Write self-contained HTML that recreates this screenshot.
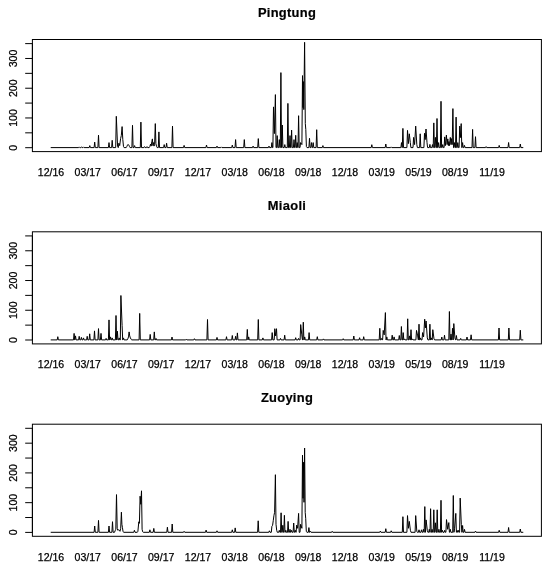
<!DOCTYPE html>
<html><head><meta charset="utf-8"><title>Plots</title>
<style>
html,body{margin:0;padding:0;background:#fff}
svg{display:block}
.tt{font-family:"Liberation Sans",sans-serif;font-weight:bold;font-size:12.9px;letter-spacing:0.3px;fill:#000;stroke:#000;stroke-width:0.2}
.al{font-family:"Liberation Sans",sans-serif;font-size:10.56px;fill:#000;stroke:#000;stroke-width:0.25}
.bx{fill:none;stroke:#000;stroke-width:1}
.ax{fill:none;stroke:#000;stroke-width:1}
.dl{fill:none;stroke:#000;stroke-width:1;stroke-linejoin:round;stroke-linecap:round}
</style></head><body>
<svg width="550" height="569" viewBox="0 0 550 569">
<rect x="0" y="0" width="550" height="569" fill="#fff"/>
<g>
<text x="287" y="17.2" text-anchor="middle" class="tt">Pingtung</text>
<rect x="32.4" y="39.5" width="509.0" height="112.1" class="bx"/>
<path class="ax" d="M32.4 147.70 V43.61 M32.4 147.70 H25.2 M32.4 132.83 H25.2 M32.4 117.96 H25.2 M32.4 103.09 H25.2 M32.4 88.22 H25.2 M32.4 73.35 H25.2 M32.4 58.48 H25.2 M32.4 43.61 H25.2"/>
<text class="al" text-anchor="middle" transform="translate(16.6 147.70) rotate(-90)">0</text>
<text class="al" text-anchor="middle" transform="translate(16.6 117.96) rotate(-90)">100</text>
<text class="al" text-anchor="middle" transform="translate(16.6 88.22) rotate(-90)">200</text>
<text class="al" text-anchor="middle" transform="translate(16.6 58.48) rotate(-90)">300</text>
<text class="al" text-anchor="middle" x="51.0" y="175.9">12/16</text>
<text class="al" text-anchor="middle" x="87.8" y="175.9">03/17</text>
<text class="al" text-anchor="middle" x="124.5" y="175.9">06/17</text>
<text class="al" text-anchor="middle" x="161.2" y="175.9">09/17</text>
<text class="al" text-anchor="middle" x="198.0" y="175.9">12/17</text>
<text class="al" text-anchor="middle" x="234.8" y="175.9">03/18</text>
<text class="al" text-anchor="middle" x="271.5" y="175.9">06/18</text>
<text class="al" text-anchor="middle" x="308.2" y="175.9">09/18</text>
<text class="al" text-anchor="middle" x="345.0" y="175.9">12/18</text>
<text class="al" text-anchor="middle" x="381.8" y="175.9">03/19</text>
<text class="al" text-anchor="middle" x="418.5" y="175.9">05/19</text>
<text class="al" text-anchor="middle" x="455.2" y="175.9">08/19</text>
<text class="al" text-anchor="middle" x="492.0" y="175.9">11/19</text>
<path class="dl" d="M51.1 147.6 L78.6 147.6 L79.2 146.9 L79.8 147.6 L80.8 147.6 L81.4 147.1 L82.0 147.6 L82.9 147.6 L83.5 146.9 L84.1 147.6 L89.2 147.6 L89.8 145.6 L90.4 147.6 L94.1 147.6 L94.7 142.1 L95.3 147.6 L97.9 147.6 L98.5 135.2 L99.1 147.6 L108.4 147.6 L109.0 142.6 L109.6 147.6 L111.6 147.6 L112.2 140.3 L112.8 147.6 L115.7 147.6 L116.3 116.3 L117.6 146.6 L118.2 147.6 L118.3 147.6 L118.9 143.2 L119.7 145.6 L120.6 138.6 L121.3 135.6 L122.1 126.6 L122.8 139.6 L123.5 146.6 L124.1 147.6 L126.2 147.6 L126.8 146.6 L127.5 145.1 L128.1 144.4 L128.8 145.1 L129.5 146.6 L130.1 147.6 L131.9 147.6 L132.5 125.3 L133.1 147.6 L134.0 147.6 L134.6 145.6 L135.2 147.6 L140.3 147.6 L140.9 122.1 L141.5 147.6 L143.9 147.6 L144.5 146.6 L145.1 147.6 L146.4 147.6 L147.0 146.6 L147.6 147.6 L149.2 147.6 L149.8 146.6 L150.6 144.0 L151.2 146.1 L151.8 141.6 L152.4 138.9 L152.9 145.6 L153.5 142.6 L154.0 146.1 L154.6 144.6 L155.3 123.6 L155.9 143.6 L156.6 146.6 L157.2 147.6 L158.3 147.6 L158.9 131.9 L159.5 147.6 L163.6 147.6 L164.2 144.6 L164.8 147.6 L166.0 147.6 L166.6 143.2 L167.2 147.6 L171.9 147.6 L172.5 126.1 L173.1 147.6 L183.5 147.6 L184.1 145.4 L184.7 147.6 L205.9 147.6 L206.5 145.0 L207.1 147.6 L216.4 147.6 L217.0 146.1 L217.6 147.6 L220.8 147.6 L221.4 146.9 L222.0 147.6 L231.7 147.6 L232.3 145.1 L232.9 147.6 L235.0 147.6 L235.6 139.6 L236.2 147.6 L243.7 147.6 L244.3 139.6 L244.9 147.6 L252.5 147.6 L253.1 146.1 L253.7 147.6 L257.7 147.6 L258.3 138.6 L258.9 147.6 L268.4 147.6 L269.0 146.1 L269.6 147.6 L271.3 147.6 L271.9 142.6 L272.5 147.6 L272.9 147.6 L273.5 106.9 L274.4 133.6 L275.4 94.6 L276.0 147.6 L276.6 147.6 L277.2 135.6 L277.8 147.6 L278.7 147.6 L279.3 139.6 L279.9 147.6 L280.3 147.6 L280.9 72.6 L281.5 147.6 L281.7 147.6 L282.3 125.0 L282.9 147.6 L284.2 147.6 L284.8 144.6 L285.4 147.6 L287.3 147.6 L287.9 103.4 L288.5 147.6 L289.4 147.6 L290.0 135.6 L290.6 147.6 L291.0 147.6 L291.6 130.1 L292.2 147.6 L293.4 147.6 L294.0 139.6 L294.6 147.6 L295.1 147.6 L295.7 135.3 L296.3 147.6 L296.6 147.6 L297.2 142.6 L297.8 147.6 L298.0 147.6 L298.6 115.7 L299.2 147.6 L300.0 147.6 L300.6 142.6 L301.9 144.6 L302.5 75.6 L303.0 107.6 L303.4 81.6 L303.8 109.6 L304.6 42.3 L305.3 123.6 L305.8 129.6 L306.4 146.6 L307.0 147.6 L308.9 147.6 L309.5 138.3 L310.1 147.6 L310.9 147.6 L311.5 142.6 L312.1 147.6 L312.6 147.6 L313.2 142.6 L313.8 147.6 L316.1 147.6 L316.7 129.7 L317.3 147.6 L322.3 147.6 L322.9 145.6 L323.5 147.6 L371.2 147.6 L371.8 144.7 L372.4 147.6 L385.2 147.6 L385.8 144.0 L386.4 147.6 L390.6 147.6 L391.2 146.9 L391.8 147.6 L400.9 147.6 L401.5 142.6 L402.1 147.6 L402.3 147.6 L402.9 128.4 L403.5 147.6 L406.9 147.6 L407.5 130.4 L408.4 143.6 L409.3 133.8 L410.3 142.6 L410.9 147.6 L413.0 147.6 L413.6 137.4 L414.6 144.6 L415.7 126.1 L416.8 144.6 L417.4 147.6 L419.6 147.6 L420.2 133.8 L420.8 147.6 L423.9 147.6 L424.5 133.3 L425.2 139.6 L426.0 129.0 L427.0 142.6 L427.6 147.6 L429.3 147.6 L429.9 144.4 L430.5 147.6 L431.9 147.6 L432.5 144.6 L433.1 147.6 L433.2 147.6 L433.8 122.9 L434.4 147.6 L434.8 147.6 L435.4 137.4 L436.0 147.6 L436.4 147.6 L437.0 118.5 L437.6 147.6 L438.0 147.6 L438.6 142.6 L439.2 147.6 L440.4 147.6 L441.0 101.3 L441.6 147.6 L442.1 147.6 L442.7 144.6 L443.3 147.6 L444.1 147.6 L444.7 136.9 L445.4 145.6 L446.4 135.1 L447.1 144.6 L447.8 138.9 L448.4 145.6 L448.9 141.6 L449.5 145.6 L450.3 137.4 L451.0 144.6 L451.6 138.6 L452.2 144.6 L452.9 108.6 L453.5 147.6 L454.0 147.6 L454.6 142.6 L455.2 147.6 L455.5 147.6 L456.1 117.1 L456.7 147.6 L457.2 147.6 L457.8 142.6 L458.4 147.6 L459.1 147.6 L459.7 126.1 L460.4 137.6 L461.2 123.6 L461.8 147.6 L462.0 147.6 L462.6 142.6 L463.2 147.6 L463.9 147.6 L464.5 145.4 L465.1 147.6 L472.0 147.6 L472.6 129.4 L473.2 147.6 L474.9 147.6 L475.5 136.7 L476.1 147.6 L485.5 147.6 L486.1 146.6 L486.7 147.6 L498.6 147.6 L499.2 145.4 L499.8 147.6 L508.0 147.6 L508.6 142.5 L509.2 147.6 L519.7 147.6 L520.3 144.0 L520.9 147.6 L522.9 147.6"/>
</g>
<g>
<text x="287" y="209.5" text-anchor="middle" class="tt">Miaoli</text>
<rect x="32.4" y="231.8" width="509.0" height="112.1" class="bx"/>
<path class="ax" d="M32.4 340.00 V235.91 M32.4 340.00 H25.2 M32.4 325.13 H25.2 M32.4 310.26 H25.2 M32.4 295.39 H25.2 M32.4 280.52 H25.2 M32.4 265.65 H25.2 M32.4 250.78 H25.2 M32.4 235.91 H25.2"/>
<text class="al" text-anchor="middle" transform="translate(16.6 340.00) rotate(-90)">0</text>
<text class="al" text-anchor="middle" transform="translate(16.6 310.26) rotate(-90)">100</text>
<text class="al" text-anchor="middle" transform="translate(16.6 280.52) rotate(-90)">200</text>
<text class="al" text-anchor="middle" transform="translate(16.6 250.78) rotate(-90)">300</text>
<text class="al" text-anchor="middle" x="51.0" y="368.2">12/16</text>
<text class="al" text-anchor="middle" x="87.8" y="368.2">03/17</text>
<text class="al" text-anchor="middle" x="124.5" y="368.2">06/17</text>
<text class="al" text-anchor="middle" x="161.2" y="368.2">09/17</text>
<text class="al" text-anchor="middle" x="198.0" y="368.2">12/17</text>
<text class="al" text-anchor="middle" x="234.8" y="368.2">03/18</text>
<text class="al" text-anchor="middle" x="271.5" y="368.2">06/18</text>
<text class="al" text-anchor="middle" x="308.2" y="368.2">09/18</text>
<text class="al" text-anchor="middle" x="345.0" y="368.2">12/18</text>
<text class="al" text-anchor="middle" x="381.8" y="368.2">03/19</text>
<text class="al" text-anchor="middle" x="418.5" y="368.2">05/19</text>
<text class="al" text-anchor="middle" x="455.2" y="368.2">08/19</text>
<text class="al" text-anchor="middle" x="492.0" y="368.2">11/19</text>
<path class="dl" d="M51.1 339.9 L57.2 339.9 L57.8 336.7 L58.4 339.9 L73.5 339.9 L74.1 333.4 L74.7 339.9 L74.9 339.9 L75.5 335.9 L76.1 339.9 L78.6 339.9 L79.2 336.3 L79.8 339.9 L80.8 339.9 L81.4 337.4 L82.0 339.9 L82.9 339.9 L83.5 337.9 L84.1 339.9 L86.6 339.9 L87.2 336.3 L87.8 339.9 L89.1 339.9 L89.7 333.8 L90.3 339.9 L93.9 339.9 L94.5 330.9 L95.1 339.9 L97.9 339.9 L98.5 328.6 L99.1 339.9 L100.4 339.9 L101.0 333.4 L101.6 339.9 L105.5 339.9 L106.1 338.4 L106.7 339.9 L108.4 339.9 L109.0 319.9 L109.6 339.9 L109.9 339.9 L110.5 336.9 L111.1 339.9 L111.6 339.9 L112.2 337.9 L112.8 339.9 L115.4 339.9 L116.0 315.5 L116.6 339.9 L116.8 339.9 L117.4 331.2 L118.0 339.9 L118.6 339.9 L119.2 337.9 L119.8 339.9 L120.3 339.9 L120.9 295.5 L122.1 325.4 L122.7 339.9 L122.9 339.9 L123.5 337.9 L124.1 339.9 L127.2 339.9 L127.8 338.9 L128.5 336.9 L129.1 331.9 L129.7 335.9 L130.4 337.9 L131.2 339.4 L131.8 339.9 L139.1 339.9 L139.7 313.4 L140.3 339.9 L149.6 339.9 L150.2 334.4 L150.8 339.9 L153.7 339.9 L154.3 331.9 L154.9 339.9 L155.4 339.9 L156.0 338.4 L156.6 339.9 L171.4 339.9 L172.0 337.0 L172.6 339.9 L185.7 339.9 L186.3 339.2 L186.9 339.9 L193.8 339.9 L194.4 338.7 L195.0 339.9 L206.9 339.9 L207.5 319.5 L208.1 339.9 L216.4 339.9 L217.0 337.4 L217.6 339.9 L225.9 339.9 L226.5 336.7 L227.1 339.9 L231.7 339.9 L232.3 335.5 L232.9 339.9 L235.0 339.9 L235.6 336.3 L236.2 339.9 L236.8 339.9 L237.4 332.9 L238.0 339.9 L246.7 339.9 L247.3 329.4 L247.9 339.9 L248.1 339.9 L248.7 336.9 L249.3 339.9 L257.7 339.9 L258.3 319.5 L258.9 339.9 L262.3 339.9 L262.9 337.9 L263.5 339.9 L271.6 339.9 L272.2 332.6 L272.8 339.9 L274.2 339.9 L274.8 328.7 L275.6 335.9 L276.5 328.7 L277.1 339.9 L279.9 339.9 L280.5 338.4 L281.1 339.9 L284.1 339.9 L284.7 335.2 L285.3 339.9 L295.1 339.9 L295.7 337.7 L296.3 339.9 L298.0 339.9 L298.6 338.4 L299.2 339.9 L300.1 339.9 L300.7 324.6 L301.8 334.9 L302.4 339.9 L302.7 339.9 L303.3 322.2 L303.9 339.9 L304.1 339.9 L304.7 336.9 L305.3 339.9 L308.5 339.9 L309.1 332.6 L309.7 339.9 L316.7 339.9 L317.3 336.7 L317.9 339.9 L322.8 339.9 L323.4 338.9 L324.0 339.9 L342.6 339.9 L343.2 338.7 L343.8 339.9 L353.2 339.9 L353.8 336.0 L354.4 339.9 L359.0 339.9 L359.6 337.7 L360.2 339.9 L363.1 339.9 L363.7 336.7 L364.3 339.9 L379.2 339.9 L379.8 328.3 L380.4 339.9 L381.1 339.9 L381.7 338.4 L382.3 339.9 L382.6 339.9 L383.2 330.4 L384.2 334.9 L385.4 312.6 L386.0 339.9 L386.2 339.9 L386.8 336.9 L387.4 339.9 L391.6 339.9 L392.2 335.2 L392.8 339.9 L393.5 339.9 L394.1 336.9 L394.7 339.9 L398.7 339.9 L399.3 335.5 L399.9 339.9 L400.8 339.9 L401.4 326.5 L402.0 339.9 L402.6 339.9 L403.2 332.6 L403.8 339.9 L403.9 339.9 L404.5 338.9 L405.1 339.9 L407.1 339.9 L407.7 318.8 L408.3 339.9 L408.9 339.9 L409.5 335.9 L410.1 339.9 L410.4 339.9 L411.0 329.7 L411.6 339.9 L411.9 339.9 L412.5 338.9 L413.1 339.9 L415.9 339.9 L416.5 330.4 L417.7 335.9 L418.3 339.9 L418.4 339.9 L419.0 324.2 L419.6 339.9 L419.9 339.9 L420.5 337.9 L421.1 339.9 L422.0 339.9 L422.6 332.6 L423.6 336.9 L424.7 319.2 L425.4 327.9 L426.1 321.0 L427.3 337.9 L427.9 339.9 L429.3 339.9 L429.9 324.2 L430.5 339.9 L430.8 339.9 L431.4 337.9 L432.0 339.9 L432.2 339.9 L432.8 329.7 L434.0 338.9 L434.6 339.9 L441.2 339.9 L441.8 337.0 L442.4 339.9 L443.9 339.9 L444.5 335.2 L445.1 339.9 L448.8 339.9 L449.4 311.5 L450.0 339.9 L450.4 339.9 L451.0 334.1 L451.6 339.9 L451.9 339.9 L452.5 328.3 L453.1 339.9 L453.2 339.9 L453.8 323.6 L454.9 337.9 L455.5 339.9 L455.8 339.9 L456.4 335.5 L457.0 339.9 L460.1 339.9 L460.7 338.4 L461.3 339.9 L466.4 339.9 L467.0 337.0 L467.6 339.9 L470.5 339.9 L471.1 334.8 L471.7 339.9 L498.4 339.9 L499.0 328.0 L499.6 339.9 L508.3 339.9 L508.9 328.0 L509.5 339.9 L519.7 339.9 L520.3 330.2 L520.9 339.9 L522.9 339.9"/>
</g>
<g>
<text x="287" y="401.9" text-anchor="middle" class="tt">Zuoying</text>
<rect x="32.4" y="424.2" width="509.0" height="112.1" class="bx"/>
<path class="ax" d="M32.4 532.40 V428.31 M32.4 532.40 H25.2 M32.4 517.53 H25.2 M32.4 502.66 H25.2 M32.4 487.79 H25.2 M32.4 472.92 H25.2 M32.4 458.05 H25.2 M32.4 443.18 H25.2 M32.4 428.31 H25.2"/>
<text class="al" text-anchor="middle" transform="translate(16.6 532.40) rotate(-90)">0</text>
<text class="al" text-anchor="middle" transform="translate(16.6 502.66) rotate(-90)">100</text>
<text class="al" text-anchor="middle" transform="translate(16.6 472.92) rotate(-90)">200</text>
<text class="al" text-anchor="middle" transform="translate(16.6 443.18) rotate(-90)">300</text>
<text class="al" text-anchor="middle" x="51.0" y="560.6">12/16</text>
<text class="al" text-anchor="middle" x="87.8" y="560.6">03/17</text>
<text class="al" text-anchor="middle" x="124.5" y="560.6">06/17</text>
<text class="al" text-anchor="middle" x="161.2" y="560.6">09/17</text>
<text class="al" text-anchor="middle" x="198.0" y="560.6">12/17</text>
<text class="al" text-anchor="middle" x="234.8" y="560.6">03/18</text>
<text class="al" text-anchor="middle" x="271.5" y="560.6">06/18</text>
<text class="al" text-anchor="middle" x="308.2" y="560.6">09/18</text>
<text class="al" text-anchor="middle" x="345.0" y="560.6">12/18</text>
<text class="al" text-anchor="middle" x="381.8" y="560.6">03/19</text>
<text class="al" text-anchor="middle" x="418.5" y="560.6">05/19</text>
<text class="al" text-anchor="middle" x="455.2" y="560.6">08/19</text>
<text class="al" text-anchor="middle" x="492.0" y="560.6">11/19</text>
<path class="dl" d="M51.1 532.3 L94.1 532.3 L94.7 526.0 L95.3 532.3 L97.9 532.3 L98.5 520.4 L99.1 532.3 L108.4 532.3 L109.0 526.0 L109.6 532.3 L111.9 532.3 L112.5 521.7 L113.1 532.3 L114.5 532.3 L115.1 530.8 L115.8 529.3 L116.5 494.6 L117.2 528.3 L117.8 530.3 L118.6 529.8 L119.4 530.3 L120.0 531.3 L120.7 528.3 L121.4 512.2 L121.9 524.3 L122.4 527.3 L123.0 531.3 L123.6 532.3 L133.8 532.3 L134.4 530.3 L135.0 532.3 L137.3 532.3 L137.9 531.3 L138.8 521.8 L139.4 523.3 L140.1 496.2 L140.8 504.3 L141.5 490.8 L142.1 529.3 L142.7 531.8 L143.3 532.3 L149.3 532.3 L149.9 529.8 L150.5 532.3 L153.2 532.3 L153.8 528.4 L154.4 532.3 L166.8 532.3 L167.4 527.2 L168.0 532.3 L171.6 532.3 L172.2 524.0 L172.8 532.3 L183.5 532.3 L184.1 531.3 L184.7 532.3 L205.5 532.3 L206.1 530.1 L206.7 532.3 L216.4 532.3 L217.0 530.8 L217.6 532.3 L231.7 532.3 L232.3 529.8 L232.9 532.3 L234.6 532.3 L235.2 527.9 L235.8 532.3 L257.6 532.3 L258.2 520.8 L258.8 532.3 L268.8 532.3 L269.4 530.8 L270.0 532.3 L271.3 532.3 L271.9 526.3 L272.6 525.3 L273.3 520.3 L273.9 515.8 L274.6 512.3 L275.4 474.7 L276.0 524.3 L276.7 530.3 L277.3 532.3 L278.7 532.3 L279.3 530.3 L279.9 532.3 L280.5 532.3 L281.1 512.8 L281.7 532.3 L282.2 532.3 L282.8 525.3 L283.4 532.3 L283.8 532.3 L284.4 515.3 L285.0 532.3 L285.2 532.3 L285.8 530.3 L286.4 532.3 L287.5 532.3 L288.1 521.4 L288.7 532.3 L289.4 532.3 L290.0 529.3 L290.6 532.3 L291.0 532.3 L291.6 530.3 L292.2 532.3 L293.1 532.3 L293.7 523.0 L294.3 532.3 L294.7 532.3 L295.3 530.3 L295.9 532.3 L296.1 532.3 L296.7 525.1 L297.6 528.3 L298.6 513.4 L299.2 532.3 L300.0 532.3 L300.6 524.3 L301.9 528.3 L302.5 455.2 L303.0 498.3 L303.5 462.3 L304.0 502.3 L304.6 448.0 L305.2 512.3 L305.7 518.3 L306.3 531.3 L306.9 532.3 L308.3 532.3 L308.9 527.6 L309.5 532.3 L309.9 532.3 L310.5 531.3 L311.1 532.3 L331.6 532.3 L332.2 531.3 L332.8 532.3 L379.7 532.3 L380.3 531.1 L380.9 532.3 L385.2 532.3 L385.8 528.7 L386.4 532.3 L390.6 532.3 L391.2 530.8 L391.8 532.3 L402.3 532.3 L402.9 516.7 L403.5 532.3 L406.9 532.3 L407.5 515.6 L408.4 528.3 L409.3 521.4 L410.4 530.3 L411.0 532.3 L415.1 532.3 L415.7 515.6 L416.8 531.3 L417.4 532.3 L418.4 532.3 L419.0 529.8 L419.6 532.3 L420.9 532.3 L421.5 529.8 L422.1 532.3 L422.8 532.3 L423.4 529.3 L424.0 532.3 L424.2 532.3 L424.8 506.6 L425.4 532.3 L425.5 532.3 L426.1 519.9 L427.3 530.3 L427.9 532.3 L428.7 532.3 L429.3 529.3 L429.9 532.3 L430.0 532.3 L430.6 508.7 L431.2 532.3 L431.5 532.3 L432.1 529.3 L432.7 532.3 L433.2 532.3 L433.8 509.8 L434.4 532.3 L434.8 532.3 L435.4 522.8 L436.0 532.3 L436.6 532.3 L437.2 509.8 L437.8 532.3 L438.3 532.3 L438.9 529.3 L439.5 532.3 L440.4 532.3 L441.0 500.3 L441.6 532.3 L441.8 532.3 L442.4 530.3 L443.0 532.3 L444.1 532.3 L444.7 530.3 L445.3 532.3 L445.9 532.3 L446.5 519.6 L447.7 529.3 L448.8 522.6 L449.4 532.3 L449.7 532.3 L450.3 529.3 L450.9 532.3 L452.7 532.3 L453.3 495.5 L453.9 532.3 L454.0 532.3 L454.6 528.3 L455.8 513.4 L456.4 532.3 L456.5 532.3 L457.1 530.3 L457.7 532.3 L458.1 532.3 L458.7 530.3 L459.3 532.3 L459.6 532.3 L460.2 498.1 L461.3 524.3 L461.9 532.3 L462.0 532.3 L462.6 525.5 L463.2 532.3 L463.9 532.3 L464.5 529.4 L465.1 532.3 L474.9 532.3 L475.5 531.1 L476.1 532.3 L498.6 532.3 L499.2 530.3 L499.8 532.3 L508.0 532.3 L508.6 527.5 L509.2 532.3 L519.7 532.3 L520.3 529.0 L520.9 532.3 L522.9 532.3"/>
</g>
</svg>
</body></html>
